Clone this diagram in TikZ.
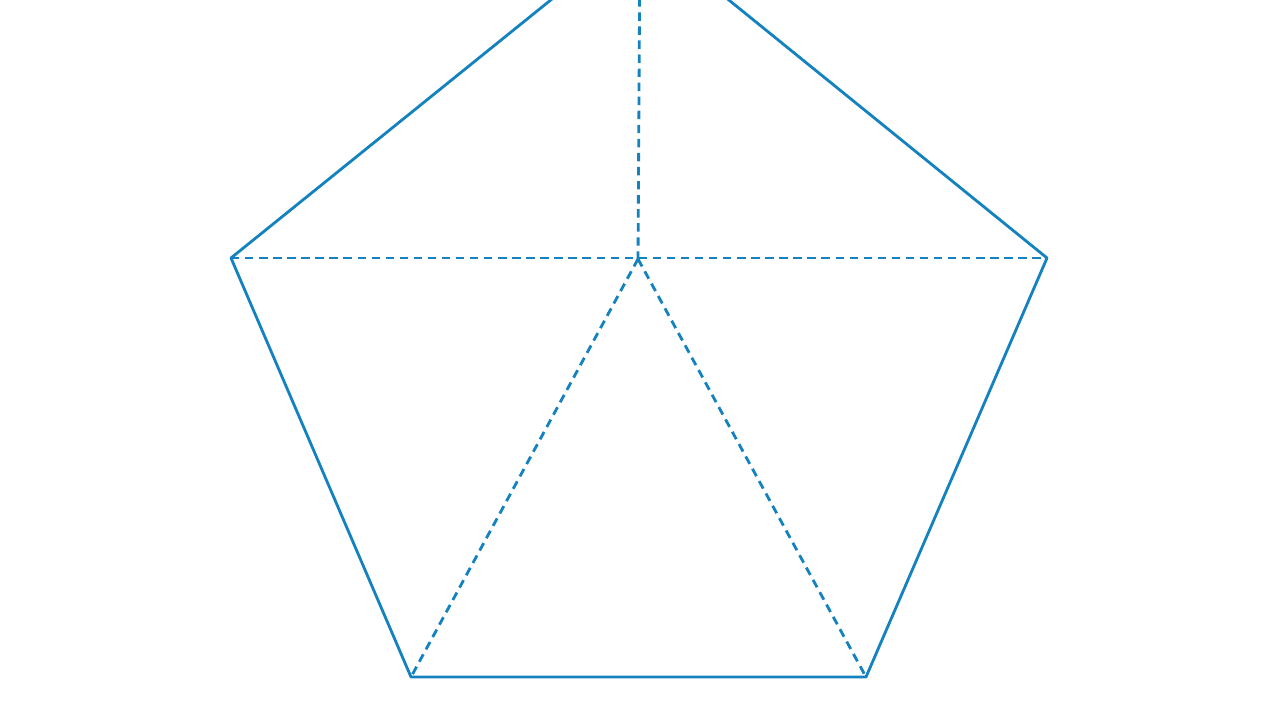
\documentclass[tikz,border=0pt]{standalone}
\usepackage{tikz}

\definecolor{solidblue}{RGB}{20,130,190}

\begin{document}
\begin{tikzpicture} [
                edgeline/.style={
                    solidblue,
                    line width=0.8pt,
                    line join=round
                },
                hiddenline/.style={
                    solidblue,
                    line width=0.8pt,
                    dash pattern=on 2.4pt off 1.6pt
                }
            ]

                \useasboundingbox (0,0) rectangle (12.8,7.2);
                \clip (0,0) rectangle (12.8,7.2);

                \coordinate (apex)      at (6.40,7.92);
                \coordinate (leftpt)    at (2.31,4.62);
                \coordinate (rightpt)   at (10.47,4.62);
                \coordinate (lowleft)   at (4.11,0.43);
                \coordinate (lowright)  at (8.66,0.43);
                \coordinate (centre)    at (6.38,4.61);

                \draw[edgeline]     (apex) -- (leftpt) -- (lowleft) -- (lowright) -- (rightpt) -- cycle;

                \draw[hiddenline]   (leftpt) -- (rightpt);
                \draw[hiddenline]   (apex) -- (centre);
                \draw[hiddenline]   (centre) -- (lowleft);
                \draw[hiddenline]   (centre) -- (lowright);

            \end{tikzpicture}
\end{document}
